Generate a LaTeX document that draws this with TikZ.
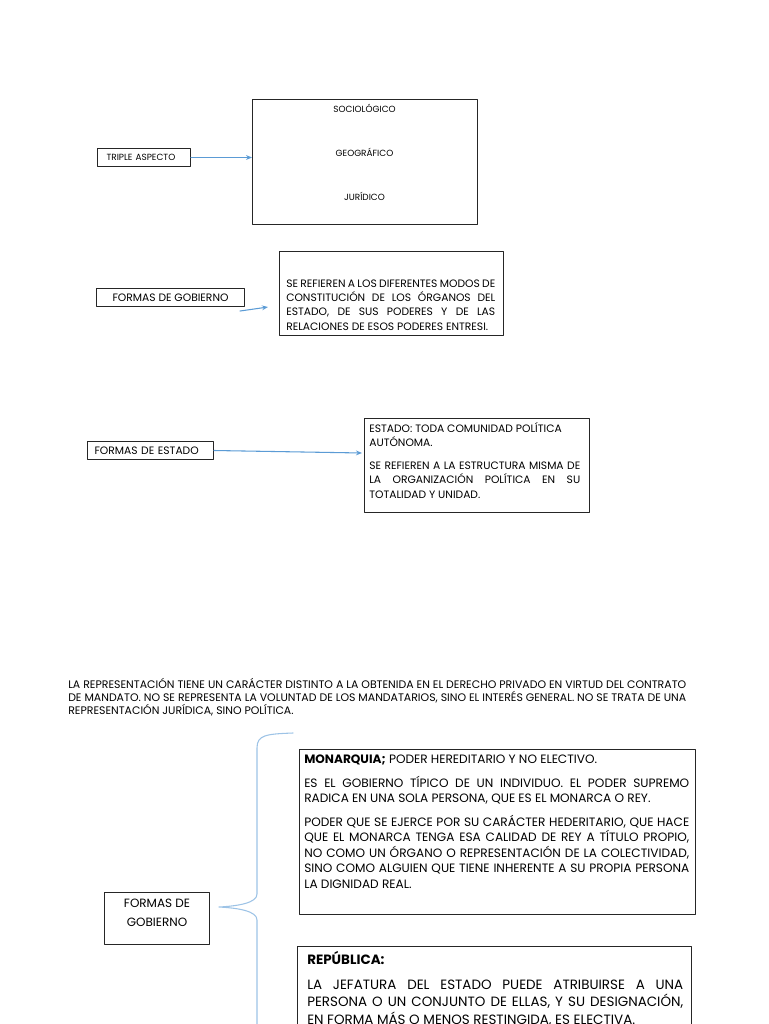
\documentclass[tikz,border=0pt]{standalone}
\usepackage{fontspec}
\setmainfont{Poppins}
\usetikzlibrary{arrows.meta,positioning}
\hyphenpenalty=10000 \exhyphenpenalty=10000
\newdimen\pxu \pxu=.75pt
\definecolor{linkblue}{RGB}{91,155,213}
\definecolor{braceblue}{RGB}{157,195,230}
\tikzset{
	box/.style={draw=black!85, line width=.75pt, inner sep=0pt},
	link/.style={draw=linkblue, line width=.8pt, -{Stealth[length=4.5pt,width=3.6pt]}},
	brace/.style={draw=braceblue, line width=.8pt},
	tinytxt/.style={font=\fontsize{6.7}{8}\selectfont, inner sep=0pt},
	smalltxt/.style={font=\fontsize{8.05}{10.8}\selectfont, inner sep=0pt},
	desc/.style={smalltxt, align=justify},
	paratxt/.style={font=\fontsize{8.2}{10.1}\selectfont, inner sep=0pt, align=justify},
	montxt/.style={font=\fontsize{9.1}{11.6}\selectfont, inner sep=0pt, align=justify},
	reptxt/.style={font=\fontsize{10.1}{13.1}\selectfont, inner sep=0pt, align=justify}
}
\begin{document}
\begin{tikzpicture}[x=.75pt, y=-.75pt, line join=round, line cap=round]
	\useasboundingbox (0,0) rectangle (768,1024);
	\clip (0,0) rectangle (768,1024);
	% triple aspecto
	\node[box, anchor=north west, minimum width=93\pxu, minimum height=18\pxu, tinytxt, text width=75\pxu, inner xsep=9\pxu, align=left] (triple) at (97,148) {TRIPLE ASPECTO};
	\node[box, anchor=north west, minimum width=225\pxu, minimum height=125\pxu] (aspects) at (252,99) {};
	\node[tinytxt, anchor=base] (socio) at (364.5,113) {SOCIOLÓGICO};
	\node[tinytxt, anchor=base] (geo) at (364.5,156) {GEOGRÁFICO};
	\node[tinytxt, anchor=base] (juri) at (364.5,200) {JURÍDICO};
	\draw[link] (triple.east) -- (triple.east -| aspects.west);
	% formas de gobierno
	\node[box, anchor=north west, minimum width=148\pxu, minimum height=18\pxu, smalltxt] (gobierno) at (96,288) {FORMAS DE GOBIERNO};
	\node[box, anchor=north west, minimum width=224\pxu, minimum height=84\pxu] (gobdesc) at (279,251) {};
	\node[desc, text width=209\pxu, anchor=base west] (gobtext) at (286,287) {SE REFIEREN A LOS DIFERENTES MODOS DE\linebreak CONSTITUCIÓN DE LOS ÓRGANOS DEL\linebreak ESTADO, DE SUS PODERES Y DE LAS\linebreak RELACIONES DE ESOS PODERES ENTRESI.};
	\coordinate (gobtail) at (240,311);
	\coordinate (gobhead) at (268,307);
	\draw[link] (gobtail) -- (gobhead);
	% formas de estado
	\node[box, anchor=north west, minimum width=126\pxu, minimum height=18\pxu, smalltxt, text width=112\pxu, inner xsep=7\pxu, align=left] (estado) at (87,441) {FORMAS DE ESTADO};
	\node[box, anchor=north west, minimum width=225\pxu, minimum height=94\pxu] (estdesc) at (364,418) {};
	\node[desc, text width=211\pxu, anchor=base west] (esttext) at (369,432.5) {ESTADO: TODA COMUNIDAD POLÍTICA\\ AUTÓNOMA.\\[6pt] SE REFIEREN A LA ESTRUCTURA MISMA DE\linebreak LA ORGANIZACIÓN POLÍTICA EN SU\linebreak TOTALIDAD Y UNIDAD.};
	\coordinate (esthead) at (362,453);
	\draw[link] (estado.east) -- (esthead);
	% representacion
	\node[paratxt, text width=618\pxu, anchor=base west] (repr) at (68,688) {LA REPRESENTACIÓN TIENE UN CARÁCTER DISTINTO A LA OBTENIDA EN EL DERECHO PRIVADO EN VIRTUD DEL CONTRATO\linebreak DE MANDATO. NO SE REPRESENTA LA VOLUNTAD DE LOS MANDATARIOS, SINO EL INTERÉS GENERAL. NO SE TRATA DE UNA\linebreak REPRESENTACIÓN JURÍDICA, SINO POLÍTICA.};
	% monarquia / republica
	\node[box, anchor=north west, minimum width=105\pxu, minimum height=52\pxu, font=\fontsize{9}{14.2}\selectfont, align=center] (gobforms) at (104,892) {FORMAS DE\\GOBIERNO\rule[-9pt]{0pt}{9pt}};
	\node[box, anchor=north west, minimum width=396\pxu, minimum height=165\pxu] (monbox) at (299,749) {};
	\node[montxt, text width=385\pxu, anchor=base west] (montext) at (304,763) {\textbf{MONARQUIA;} PODER HEREDITARIO Y NO ELECTIVO.\\[6.4pt] ES EL GOBIERNO TÍPICO DE UN INDIVIDUO. EL PODER SUPREMO\linebreak RADICA EN UNA SOLA PERSONA, QUE ES EL MONARCA O REY.\\[6.4pt] PODER QUE SE EJERCE POR SU CARÁCTER HEDERITARIO, QUE HACE\linebreak QUE EL MONARCA TENGA ESA CALIDAD DE REY A TÍTULO PROPIO,\linebreak NO COMO UN ÓRGANO O REPRESENTACIÓN DE LA COLECTIVIDAD,\linebreak SINO COMO ALGUIEN QUE TIENE INHERENTE A SU PROPIA PERSONA\linebreak LA DIGNIDAD REAL.};
	\node[box, anchor=north west, minimum width=394\pxu, minimum height=110\pxu] (repbox) at (297,946) {};
	\node[reptxt, text width=376\pxu, anchor=base west] (reptext) at (307,964.5) {\textbf{REPÚBLICA:}\\[5.6pt] LA JEFATURA DEL ESTADO PUEDE ATRIBUIRSE A UNA\linebreak PERSONA O UN CONJUNTO DE ELLAS, Y SU DESIGNACIÓN,\linebreak EN FORMA MÁS O MENOS RESTINGIDA, ES ELECTIVA.};
	\coordinate (bracetip) at (219,907);
	\draw[brace] (293,733) .. controls (266,734) and (257,735) .. (257,748) -- (257,894) .. controls (257,903) and (238,906) .. (bracetip) .. controls (238,908) and (257,911) .. (257,920) -- (257,1030);
\end{tikzpicture}
\end{document}
